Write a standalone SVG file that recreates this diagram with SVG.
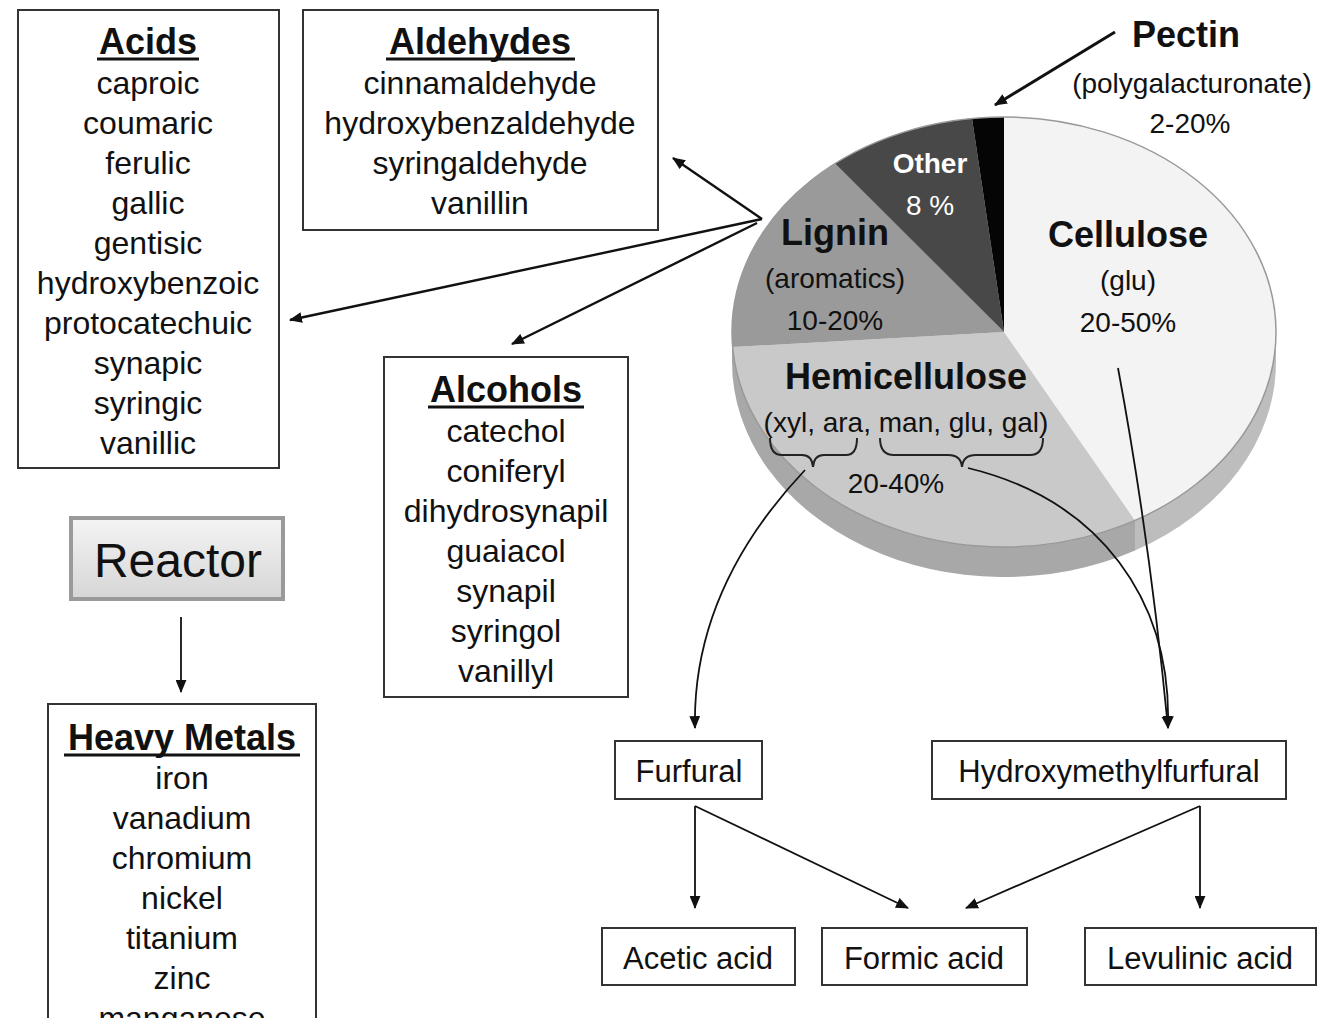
<svg xmlns="http://www.w3.org/2000/svg" width="1334" height="1018" viewBox="0 0 1334 1018">
<defs>
<style>
text{font-family:"Liberation Sans",Arial,sans-serif;fill:#111;text-anchor:middle}
.it{font-size:32px}
.tt{font-size:36px;font-weight:bold}
.pl{font-size:28px}
.box{fill:#fff;stroke:#333;stroke-width:2}
.ul{stroke:#111;stroke-width:3}
.cn{fill:none;stroke:#111;stroke-width:2.4}
.cc{fill:none;stroke:#111;stroke-width:1.8}
.br{fill:none;stroke:#222;stroke-width:2}
</style>
<marker id="ah" viewBox="0 0 12 10" refX="11" refY="5" markerWidth="13" markerHeight="11" markerUnits="userSpaceOnUse" orient="auto">
<path d="M0,0 L12,5 L0,10 Z" fill="#111"/>
</marker>
<linearGradient id="rg" x1="0" y1="0" x2="0" y2="1">
<stop offset="0" stop-color="#f4f4f4"/>
<stop offset="1" stop-color="#d6d6d6"/>
</linearGradient>
</defs>
<rect width="1334" height="1018" fill="#fff"/>

<g id="pie">
<path d="M732,332 A272,215 0 0 0 1135,520.4 L1135,550.4 A272,215 0 0 1 732,362 Z" fill="#a8a8a8"/>
<path d="M1135,520.4 A272,215 0 0 0 1276,332 L1276,362 A272,215 0 0 1 1135,550.4 Z" fill="#bdbdbd"/>
<path d="M1004,332 L1004,117 A272,215 0 0 1 1135,520.4 Z" fill="#f3f3f3"/>
<path d="M1004,332 L1135,520.4 A272,215 0 0 1 732.7,347 Z" fill="#c9c9c9"/>
<path d="M1004,332 L732.7,347 A272,215 0 0 1 835,163.5 Z" fill="#9a9a9a"/>
<path d="M1004,332 L835,163.5 A272,215 0 0 1 972,118.5 Z" fill="#484848"/>
<path d="M1004,332 L972,118.5 A272,215 0 0 1 1004,117 Z" fill="#050505"/>
<ellipse cx="1004" cy="332" rx="272" ry="215" fill="none" stroke="#999" stroke-width="1.5"/>
<text x="930" y="173" style="font-size:28px;font-weight:bold;fill:#fff">Other</text>
<text x="930" y="215" class="pl" style="fill:#fff">8 %</text>
<text x="835" y="245" class="tt">Lignin</text>
<text x="835" y="288" class="pl">(aromatics)</text>
<text x="835" y="330" class="pl">10-20%</text>
<text x="1128" y="247" class="tt">Cellulose</text>
<text x="1128" y="290" class="pl">(glu)</text>
<text x="1128" y="332" class="pl">20-50%</text>
<text x="906" y="389" class="tt">Hemicellulose</text>
<text x="906" y="432" class="pl">(xyl, ara, man, glu, gal)</text>
<text x="896" y="493" class="pl">20-40%</text>
<path class="br" d="M770,438 Q770,455 782,455 L802,455 Q812,455 813,467 Q814,455 824,455 L846,455 Q857,455 857,438"/>
<path class="br" d="M880,438 Q880,455 894,455 L948,455 Q961,455 962,467 Q963,455 976,455 L1030,455 Q1043,455 1043,438"/>
</g>

<g id="pectin">
<text x="1186" y="47" class="tt">Pectin</text>
<text x="1192" y="93" class="pl">(polygalacturonate)</text>
<text x="1190" y="133" class="pl">2-20%</text>
</g>

<g id="acids">
<rect class="box" x="18" y="10" width="261" height="458"/>
<text x="148" y="54" class="tt">Acids</text>
<line class="ul" x1="97" y1="59" x2="199" y2="59"/>
<text x="148" y="94" class="it">caproic</text>
<text x="148" y="134" class="it">coumaric</text>
<text x="148" y="174" class="it">ferulic</text>
<text x="148" y="214" class="it">gallic</text>
<text x="148" y="254" class="it">gentisic</text>
<text x="148" y="294" class="it">hydroxybenzoic</text>
<text x="148" y="334" class="it">protocatechuic</text>
<text x="148" y="374" class="it">synapic</text>
<text x="148" y="414" class="it">syringic</text>
<text x="148" y="454" class="it">vanillic</text>
</g>

<g id="aldehydes">
<rect class="box" x="303" y="10" width="355" height="220"/>
<text x="480" y="54" class="tt">Aldehydes</text>
<line class="ul" x1="386" y1="59" x2="575" y2="59"/>
<text x="480" y="94" class="it">cinnamaldehyde</text>
<text x="480" y="134" class="it">hydroxybenzaldehyde</text>
<text x="480" y="174" class="it">syringaldehyde</text>
<text x="480" y="214" class="it">vanillin</text>
</g>

<g id="alcohols">
<rect class="box" x="384" y="357" width="244" height="340"/>
<text x="506" y="402" class="tt">Alcohols</text>
<line class="ul" x1="428" y1="407" x2="584" y2="407"/>
<text x="506" y="442" class="it">catechol</text>
<text x="506" y="482" class="it">coniferyl</text>
<text x="506" y="522" class="it">dihydrosynapil</text>
<text x="506" y="562" class="it">guaiacol</text>
<text x="506" y="602" class="it">synapil</text>
<text x="506" y="642" class="it">syringol</text>
<text x="506" y="682" class="it">vanillyl</text>
</g>

<g id="reactor">
<rect x="71" y="518" width="212" height="81" fill="url(#rg)" stroke="#9a9a9a" stroke-width="4"/>
<text x="178" y="577" style="font-size:48px">Reactor</text>
</g>

<g id="heavy-metals">
<rect class="box" x="48" y="704" width="268" height="330"/>
<text x="182" y="750" class="tt">Heavy Metals</text>
<line class="ul" x1="64" y1="755" x2="300" y2="755"/>
<text x="182" y="789" class="it">iron</text>
<text x="182" y="829" class="it">vanadium</text>
<text x="182" y="869" class="it">chromium</text>
<text x="182" y="909" class="it">nickel</text>
<text x="182" y="949" class="it">titanium</text>
<text x="182" y="989" class="it">zinc</text>
<text x="182" y="1029" class="it">manganese</text>
</g>

<g id="furfural">
<rect class="box" x="615" y="741" width="147" height="58"/>
<text x="689" y="782" class="it" style="font-size:31px">Furfural</text>
</g>
<g id="hmf">
<rect class="box" x="932" y="741" width="354" height="58"/>
<text x="1109" y="782" class="it" style="font-size:31px">Hydroxymethylfurfural</text>
</g>
<g id="acetic">
<rect class="box" x="602" y="928" width="193" height="57"/>
<text x="698" y="969" class="it" style="font-size:31px">Acetic acid</text>
</g>
<g id="formic">
<rect class="box" x="822" y="928" width="205" height="57"/>
<text x="924" y="969" class="it" style="font-size:31px">Formic acid</text>
</g>
<g id="levulinic">
<rect class="box" x="1085" y="928" width="231" height="57"/>
<text x="1200" y="969" class="it" style="font-size:31px">Levulinic acid</text>
</g>

<g id="connectors">
<line class="cn" x1="1115" y1="32" x2="995" y2="105" style="stroke-width:3" marker-end="url(#ah)"/>
<line class="cn" x1="762" y1="219" x2="673" y2="158" marker-end="url(#ah)"/>
<line class="cn" x1="762" y1="219" x2="290" y2="320" marker-end="url(#ah)"/>
<line class="cn" x1="757" y1="223" x2="512" y2="344" marker-end="url(#ah)"/>
<line class="cc" x1="181" y1="617" x2="181" y2="692" marker-end="url(#ah)"/>
<path class="cc" d="M805,470 Q692,590 695,728" marker-end="url(#ah)"/>
<path class="cc" d="M968,468 C1100,500 1172,600 1168,728" marker-end="url(#ah)"/>
<path class="cc" d="M1118,368 Q1150,540 1168,728" marker-end="url(#ah)"/>
<line class="cc" x1="695" y1="806" x2="695" y2="908" marker-end="url(#ah)"/>
<line class="cc" x1="695" y1="806" x2="908" y2="908" marker-end="url(#ah)"/>
<line class="cc" x1="1200" y1="806" x2="966" y2="908" marker-end="url(#ah)"/>
<line class="cc" x1="1200" y1="806" x2="1200" y2="908" marker-end="url(#ah)"/>
</g>
</svg>
